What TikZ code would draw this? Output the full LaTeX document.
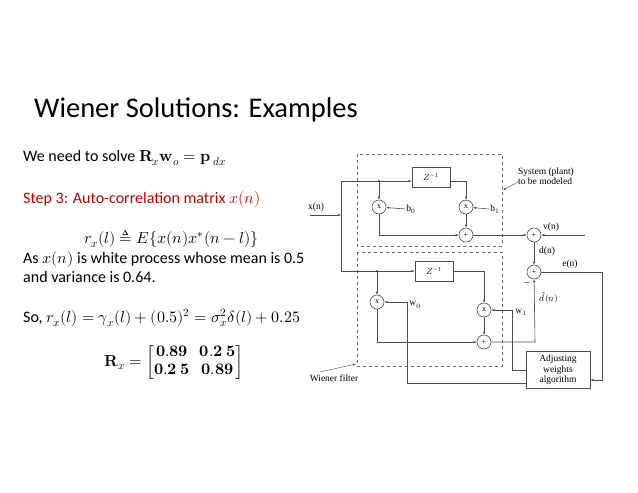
\documentclass[tikz,border=0pt]{standalone}
\usepackage{amsmath,amssymb}
\usepackage{fontspec}
\usepackage{unicode-math}
\setmathfont{Latin Modern Math}
\setmainfont{Carlito}
\newfontfamily\dfont{Liberation Serif}
\usetikzlibrary{arrows.meta}
\begin{document}
\begin{tikzpicture}[x=1pt,y=-1pt,
  ln/.style={draw=black!70,line width=0.6pt},
  ar/.style={ln,-{Latex[length=3pt,width=2.5pt]}},
  circ/.style={circle,draw=black!70,line width=0.6pt,minimum size=14pt,inner sep=0pt,font=\dfont\fontsize{8}{9}\selectfont,fill=white},
  zbox/.style={draw=black!70,line width=0.6pt,minimum width=38pt,minimum height=20pt,font=\dfont\fontsize{9}{10}\selectfont},
  dbox/.style={draw=black!60,dashed,line width=0.6pt},
  lab/.style={font=\dfont\fontsize{9.5}{10}\selectfont,inner sep=1pt},
  body/.style={anchor=west,font=\fontsize{16}{18}\selectfont,inner sep=0pt}]
\useasboundingbox (0,0) rectangle (638,493);
% text
\node[anchor=west,font=\fontsize{28.5}{32}\selectfont,inner sep=0pt] (title) at (34,110) {Wiener Solutions: Examples};
\node[body] (t1) at (23,158) {We need to solve $\symbf{R}_{x}\symbf{w}_{o}=\symbf{p}_{\;dx}$};
\node[body,text={rgb,255:red,192;green,0;blue,0}] (t2) at (23,199) {Step 3: Auto-correlation matrix $x(n)$};
\node[body] (t3) at (84,239) {$r_x(l)\triangleq E\{x(n)x^{*}(n-l)\}$};
\node[body] (t4) at (23,259) {As $x(n)$ is white process whose mean is 0.5};
\node[body] (t5) at (23,277) {and variance is 0.64.};
\node[body] (t6) at (23,318) {So, $r_x(l)=\gamma_x(l)+(0.5)^2=\sigma_x^2\delta(l)+0.25$};
\node[body] (t7) at (104,362) {$\symbf{R}_x=\begin{bmatrix}\symbf{0.89}&\symbf{0.2\ 5}\\ \symbf{0.2\ 5}&\symbf{0.89}\end{bmatrix}$};
% dashed boxes
\draw[dbox] (357,154) rectangle (502,246);
\draw[dbox] (357,252) rectangle (502,366);
% upper
\node[zbox] (z1) at (431,177) {$Z^{-1}$};
\node[circ] (m0) at (379,207) {x};
\node[circ] (m1) at (466,207) {x};
\node[circ] (a1) at (466,235) {+};
\node[circ] (s1) at (534,235) {+};
\node[circ] (s2) at (534,272) {+};
% lower
\node[zbox] (z2) at (434,271) {$Z^{-1}$};
\node[circ] (w0m) at (377,302) {x};
\node[circ] (w1m) at (484,310) {x};
\node[circ] (a2) at (484,342) {+};
\node[draw=black!70,line width=0.6pt,align=center,font=\dfont\fontsize{9.5}{10.5}\selectfont,inner sep=1pt,minimum width=64pt,minimum height=37pt,text width=60pt] (adj) at (558,370) {Adjusting\\ weights\\ algorithm};
% coordinates
\coordinate (xin) at (310,215);
\coordinate (br) at (341,215);
\coordinate (br1) at (341,181);
\coordinate (br2) at (341,271);
\node[lab,anchor=south west] (xl) at (307,213) {x(n)};
\draw[ar] (xin) -- (br);
\draw[ln] (br1) -- (br2);
\draw[ar] (br1) -- (z1.west|-br1);
\fill (379,181) circle (1pt);
\draw[ar] (379,181) -- (m0);
\draw[ar] (z1.east|-br1) -| (m1);
\node[lab] (b0) at (411,209) {b$_0$};
\node[lab] (b1) at (495,209) {b$_1$};
\draw[ar] (b0.west) -- (m0);
\draw[ar] (b1.west) -- (m1);
\draw[ar] (m1) -- (a1);
\draw[ar] (m0) |- (a1);
\draw[ar] (a1) -- (s1);
\node[lab] (vn) at (551,227) {v(n)};
\draw[ar] (585,235) -- (s1);
\draw[ar] (s1) -- (s2);
\node[lab] (dn) at (547,251) {d(n)};
\node[lab] (en) at (570,264) {e(n)};
\draw[ar] (s2) -- (602,272) |- (adj.east|-380,380);
\node[lab] (minus) at (527,284) {$-$};
\node[lab] (dh) at (549,298) {$\hat{d}(n)$};
% lower paths
\draw[ar] (br2) -- (z2);
\fill (377,271) circle (1pt);
\draw[ar] (377,271) -- (w0m);
\draw[ar] (z2.east) -| (w1m);
\draw[ar] (w1m) -- (a2);
\draw[ar] (w0m) |- (a2);
\draw[ar] (a2) -- (535,342) -- (s2);
\node[lab] (w0) at (415,305) {w$_0$};
\node[lab] (w1) at (521,312) {w$_1$};
\draw[ar] (adj.west|-383,383) -- (407,383) |- (w0m);
\draw[ar] (adj.west|-370,370) -- (512,370) |- (w1m);
% annotations
\node[lab,align=left,anchor=west] (sys) at (517,176) {System (plant)\\to be modeled};
\draw[-{Latex[length=3pt]},black!70] (520,181) -- (503,190);
\node[lab] (wf) at (334,378) {Wiener filter};
\draw[-{Latex[length=3pt]},black!70] (320,372) -- (356,364);
\end{tikzpicture}
\end{document}
